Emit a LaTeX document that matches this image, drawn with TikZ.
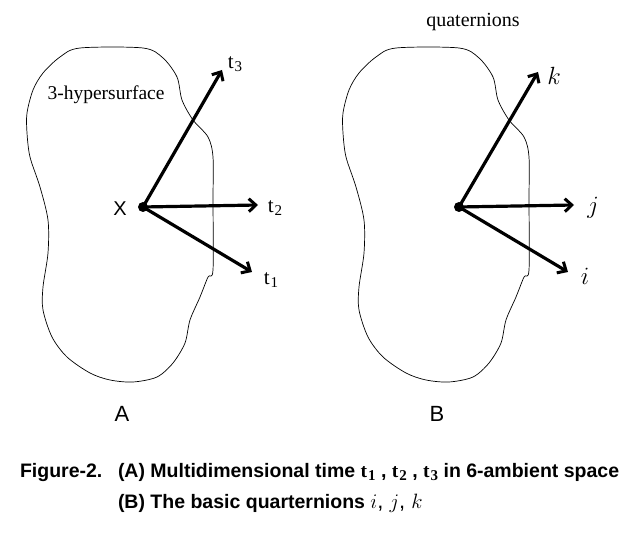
\documentclass[tikz,border=0pt]{standalone}
\usepackage{fontspec}
\setmainfont{Liberation Serif}
\setsansfont{Liberation Sans}
\usetikzlibrary{arrows.meta}

\begin{document}
\begin{tikzpicture}[x=1pt,y=-1pt,line cap=rect]
	\def\fontA#1{\fontsize{#1pt}{#1pt}\selectfont}
	\def\tsub#1{t\kern1pt\raisebox{-3pt}{\fontA{15}#1}}
	\tikzset{
		surface/.style={line width=0.7pt, line cap=round, line join=round},
		vec/.style={line width=3.2pt, line cap=round, -{Straight Barb[length=7pt, width=13pt, line width=3pt]}},
		origin/.style={circle, fill, inner sep=0pt, minimum size=10pt},
		axislabel/.style={inner sep=0, outer sep=0, font=\rmfamily\fontA{21}},
		quatlabel/.style={inner sep=0, outer sep=0, font=\fontA{25}},
		caption/.style={inner sep=0, outer sep=0, anchor=base west, font=\sffamily\bfseries\fontA{19.5}}
	}
	\useasboundingbox (0,0) rectangle (632,534);
	% the two surfaces, same outline
	\foreach \dx in {0,316} {
		\draw [surface, shift={(\dx,0)}] plot [smooth cycle, tension=0.5] coordinates {
			(80,48) (143,48) (163,58) (177,77) (182,100) (193,120) (208,137) (213,157)
			(213,200) (213,270) (208,277) (200,297) (190,320) (185,343) (173,363) (157,377)
			(133,382) (110,380) (90,373) (67,357) (52,337) (43,310) (43,287) (48,253)
			(48,220) (40,187) (30,157) (27,133) (27,113) (33,90) (43,73) (60,57)};
	}
	% (A) time directions
	\node [origin] (X) at (143,207) {};
	\coordinate (t3tip) at (222,70);
	\coordinate (t2tip) at (258,205);
	\coordinate (t1tip) at (252,272);
	\draw [vec] (X.center) -- (t3tip);
	\draw [vec] (X.center) -- (t2tip);
	\draw [vec] (X.center) -- (t1tip);
	\node [axislabel] (t3) at (235,64) {\tsub{3}};
	\node [axislabel] (t2) at (275,208) {\tsub{2}};
	\node [axislabel] (t1) at (271,280) {\tsub{1}};
	\node [inner sep=0, font=\sffamily\fontA{20}] (Xlabel) at (120,209) {X};
	\node [axislabel, font=\rmfamily\fontA{19.5}] (hyper) at (106,95) {3-hypersurface};
	\node [inner sep=0, font=\sffamily\fontA{22}] (A) at (122,414) {A};
	% (B) quaternion units
	\node [origin] (O) at (459,207) {};
	\coordinate (ktip) at (538,72);
	\coordinate (jtip) at (574,205);
	\coordinate (itip) at (568,272);
	\draw [vec] (O.center) -- (ktip);
	\draw [vec] (O.center) -- (jtip);
	\draw [vec] (O.center) -- (itip);
	\node [quatlabel] (k) at (554,76) {$k$};
	\node [quatlabel] (j) at (593,208) {$j$};
	\node [quatlabel] (i) at (585,276) {$i$};
	\node [axislabel, font=\rmfamily\fontA{20}] (quat) at (473,22) {quaternions};
	\node [inner sep=0, font=\sffamily\fontA{22}] (B) at (437,414) {B};
	% caption
	\node [caption] (fig) at (20,477) {Figure-2.};
	\node [caption] (capA) at (118,477) {(A) Multidimensional time {\rmfamily\tsub{1}} , {\rmfamily\tsub{2}} , {\rmfamily\tsub{3}} in 6-ambient space};
	\node [caption] (capB) at (118,508) {(B) The basic quarternions {\mdseries\fontA{22}$i$, $j$, $k$}};
\end{tikzpicture}
\end{document}
